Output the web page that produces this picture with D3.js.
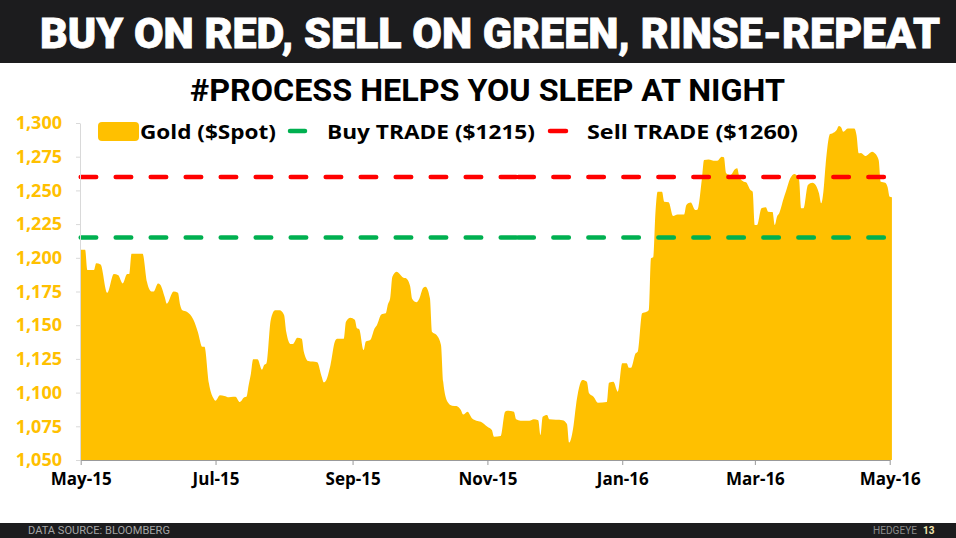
<!DOCTYPE html>
<html><head><meta charset="utf-8">
<script src="https://cdn.jsdelivr.net/npm/d3@7"></script>
<style>html,body{margin:0;padding:0;background:#fff;} svg{display:block;}</style>
</head><body><svg id="c" width="956" height="538"></svg>
<script>
const titleText = "BUY ON RED, SELL ON GREEN, RINSE-REPEAT";
const subtitleText = "#PROCESS HELPS YOU SLEEP AT NIGHT";
const sourceText = "DATA SOURCE: BLOOMBERG";
const brandText = "HEDGEYE";
const pageNumber = "13";

const goldDates = [
"2015-05-01","2015-05-03","2015-05-04","2015-05-07","2015-05-08","2015-05-10","2015-05-13","2015-05-16","2015-05-18","2015-05-20",
"2015-05-22","2015-05-23","2015-05-24","2015-05-29","2015-05-31","2015-06-02","2015-06-03","2015-06-05","2015-06-06","2015-06-08",
"2015-06-09","2015-06-12","2015-06-14","2015-06-15","2015-06-16","2015-06-18","2015-06-21","2015-06-23","2015-06-25","2015-06-26",
"2015-06-28","2015-06-30","2015-07-01","2015-07-03","2015-07-05","2015-07-07","2015-07-09","2015-07-10","2015-07-12","2015-07-14",
"2015-07-15","2015-07-16","2015-07-17","2015-07-18","2015-07-20","2015-07-22","2015-07-23","2015-07-24","2015-07-26","2015-07-28",
"2015-07-30","2015-08-01","2015-08-02","2015-08-04","2015-08-05","2015-08-07","2015-08-09","2015-08-10","2015-08-12","2015-08-16",
"2015-08-18","2015-08-19","2015-08-20","2015-08-22","2015-08-24","2015-08-25","2015-08-28","2015-08-29","2015-08-31","2015-09-02",
"2015-09-03","2015-09-04","2015-09-06","2015-09-07","2015-09-09","2015-09-11","2015-09-12","2015-09-14","2015-09-16","2015-09-17",
"2015-09-18","2015-09-19","2015-09-21","2015-09-22","2015-09-24","2015-09-25","2015-09-27","2015-09-28","2015-09-30","2015-10-01",
"2015-10-03","2015-10-04","2015-10-06","2015-10-07","2015-10-09","2015-10-11","2015-10-12","2015-10-14","2015-10-16","2015-10-18",
"2015-10-20","2015-10-21","2015-10-23","2015-10-25","2015-10-27","2015-10-29","2015-11-01","2015-11-03","2015-11-04","2015-11-07",
"2015-11-09","2015-11-10","2015-11-13","2015-11-14","2015-11-16","2015-11-20","2015-11-22","2015-11-24","2015-11-25","2015-11-26",
"2015-11-28","2015-11-29","2015-12-05","2015-12-07","2015-12-08","2015-12-10","2015-12-11","2015-12-14","2015-12-16","2015-12-17",
"2015-12-19","2015-12-21","2015-12-25","2015-12-26","2015-12-28","2015-12-30","2016-01-01","2016-01-03","2016-01-04","2016-01-05",
"2016-01-07","2016-01-08","2016-01-10","2016-01-12","2016-01-13","2016-01-14","2016-01-15","2016-01-16","2016-01-17","2016-01-19",
"2016-01-20","2016-01-22","2016-01-24","2016-01-26","2016-01-29","2016-01-30","2016-02-01","2016-02-03","2016-02-04","2016-02-06",
"2016-02-07","2016-02-09","2016-02-12","2016-02-13","2016-02-15","2016-02-16","2016-02-17","2016-02-19","2016-02-21","2016-02-22",
"2016-02-23","2016-02-25","2016-02-26","2016-02-28","2016-02-29","2016-03-01","2016-03-02","2016-03-04","2016-03-06","2016-03-07",
"2016-03-09","2016-03-10","2016-03-11","2016-03-12","2016-03-14","2016-03-15","2016-03-17","2016-03-19","2016-03-21","2016-03-22",
"2016-03-23","2016-03-25","2016-03-27","2016-03-28","2016-03-30","2016-03-31","2016-04-01","2016-04-02","2016-04-04","2016-04-05",
"2016-04-07","2016-04-08","2016-04-09","2016-04-10","2016-04-12","2016-04-15","2016-04-16","2016-04-17","2016-04-18","2016-04-20",
"2016-04-21","2016-04-23","2016-04-24","2016-04-26","2016-04-27","2016-04-29","2016-04-30","2016-05-01","2016-05-02"
];
const goldValues = [
1206,1206,1191,1191,1196,1195,1174,1188,1187,1181,
1188,1188,1203,1203,1182,1175,1175,1181,1180,1171,
1166,1175,1174,1165,1161,1160,1154,1145,1134,1134,
1107,1096,1094,1098,1097.5,1096.5,1097,1097,1093,1096.5,
1097,1105.6,1114,1124.7,1124.7,1117,1120.5,1121.5,1154,1161,
1161,1157.6,1145,1136,1136,1140.7,1140,1130,1123.4,1122.5,
1112,1107.6,1109,1120.5,1138,1140,1140,1152.6,1155.6,1154,
1147.7,1147,1131.6,1138,1139,1147.7,1150,1158,1158.8,1165.5,
1170,1186,1189.7,1188.5,1185.2,1185,1179.3,1169.4,1167,1169,
1177.8,1178.6,1170,1145,1142.7,1135.3,1108,1093,1090.3,1090,
1087,1083.7,1085.8,1081,1079.2,1078.4,1074.7,1072.3,1067.3,1067.8,
1085.8,1086.6,1085.8,1080.2,1079.2,1079.2,1080.2,1079.5,1068.5,1082,
1083.4,1080.2,1079.5,1076.7,1063,1076,1089.5,1109.4,1108,1099.5,
1097,1092.5,1093,1107.4,1108,1100.7,1121.7,1121.7,1118.5,1118.5,
1129,1130.3,1158.8,1160,1161.3,1199.6,1200.4,1233,1249,1249,
1241.6,1241.3,1231,1232.2,1232.2,1239.2,1241,1235.5,1235.7,1258,
1272.6,1273,1272,1272,1275,1274.5,1262.7,1261.4,1265.6,1266.4,
1260,1256.5,1256,1250.3,1249,1224.3,1224.3,1236.7,1237.5,1234.2,
1234,1224.3,1230.5,1233,1244,1249,1259,1262.2,1257.7,1236.7,
1236.7,1254,1255.7,1255,1247.8,1240.4,1249,1268.8,1291.8,1292.3,
1294.8,1297.8,1296.8,1293.5,1296,1296,1291,1277.5,1277.7,1275.5,
1276.3,1278.7,1278,1272.6,1256.5,1255.7,1252.7,1245.3,1245
];

const buyLevel = 1215;
const sellLevel = 1260;
const tradeSegments = [["2015-05-01","2015-11-14"],["2015-11-15","2016-05-01"]];
const yTicks = [1050,1075,1100,1125,1150,1175,1200,1225,1250,1275,1300];
const xTicks = ["2015-05-01","2015-07-01","2015-09-01","2015-11-01","2016-01-01","2016-03-01","2016-05-01"];
const legendLabels = ["Gold ($Spot)","Buy TRADE ($1215)","Sell TRADE ($1260)"];

const GOLD = "#FFC000", GREEN = "#00B050", RED = "#FF0000";
const parse = d3.timeParse("%Y-%m-%d");
const svg = d3.select("#c");

// header
svg.append("rect").attr("x",0).attr("y",0).attr("width",956).attr("height",63).attr("fill","#1c1c1e");
svg.append("text").text(titleText).attr("x",40).attr("y",48)
  .attr("font-family","Roboto, 'DejaVu Sans', sans-serif").attr("font-weight",900).attr("font-size",43)
  .attr("fill","#fff").attr("stroke","#fff").attr("stroke-width",0.8)
  .attr("textLength",900).attr("lengthAdjust","spacingAndGlyphs");
svg.append("text").text(subtitleText).attr("x",190).attr("y",101)
  .attr("font-family","Roboto, 'DejaVu Sans', sans-serif").attr("font-weight",700).attr("font-size",32)
  .attr("fill","#000").attr("textLength",595).attr("lengthAdjust","spacingAndGlyphs");

// footer
svg.append("rect").attr("x",0).attr("y",523).attr("width",956).attr("height",15).attr("fill","#1c1c1e");
svg.append("text").text(sourceText).attr("x",28).attr("y",534)
  .attr("font-family","Roboto, sans-serif").attr("font-size",10).attr("fill","#a6a6a6")
  .attr("textLength",142).attr("lengthAdjust","spacingAndGlyphs");
svg.append("text").text(brandText).attr("x",873).attr("y",534)
  .attr("font-family","Roboto, sans-serif").attr("font-size",10).attr("fill","#8c8c8c")
  .attr("textLength",44).attr("lengthAdjust","spacingAndGlyphs");
svg.append("text").text(pageNumber).attr("x",923).attr("y",534)
  .attr("font-family","Roboto, sans-serif").attr("font-weight",700).attr("font-size",10).attr("fill","#f2e6b0");

// scales
const x = d3.scaleTime().domain([parse("2015-05-01"), parse("2016-05-01")]).range([80.7, 889.7]);
const y = d3.scaleLinear().domain([1050, 1300]).range([460, 123]);

const data = goldDates.map((d,i)=>({date:parse(d), value:goldValues[i]}));

// area
const area = d3.area().x(d=>x(d.date)).y0(y(1050)).y1(d=>y(d.value)).curve(d3.curveMonotoneX);
svg.append("path").datum(data).attr("d",area).attr("fill",GOLD);

// trade lines
function tradeLine(level, color){
  tradeSegments.forEach(seg=>{
    svg.append("line").attr("x1",x(parse(seg[0]))).attr("x2",x(parse(seg[1])))
      .attr("y1",y(level)).attr("y2",y(level))
      .attr("stroke",color).attr("stroke-width",4.5).attr("stroke-linecap","round")
      .attr("stroke-dasharray","15.5,19.5");
  });
}
tradeLine(sellLevel, RED);
tradeLine(buyLevel, GREEN);

// y axis
const yAxis = svg.append("g").attr("transform","translate(80,0)")
  .call(d3.axisLeft(y).tickValues(yTicks).tickFormat(d3.format(",")).tickSize(4).tickSizeOuter(0).tickPadding(14));
yAxis.select(".domain").attr("stroke","#d9d9d9");
yAxis.selectAll(".tick line").attr("stroke","#d9d9d9");
yAxis.selectAll("text").attr("fill",GOLD).attr("font-family","'Open Sans', sans-serif")
  .attr("font-weight",700).attr("font-size",18);

// x axis
const xAxis = svg.append("g").attr("transform","translate(0,460)")
  .call(d3.axisBottom(x).tickValues(xTicks.map(parse)).tickFormat(d3.timeFormat("%b-%y")).tickSize(5).tickSizeOuter(0).tickPadding(8));
xAxis.select(".domain").attr("stroke","#999").attr("stroke-width",1.2);
xAxis.selectAll(".tick line").attr("stroke","#999");
xAxis.selectAll("text").attr("fill","#000").attr("font-family","'Open Sans', sans-serif")
  .attr("font-weight",700).attr("font-size",17);

// legend
const lg = svg.append("g").attr("font-family","'Open Sans', sans-serif").attr("font-weight",700).attr("font-size",19).attr("fill","#000");
lg.append("rect").attr("x",98).attr("y",122).attr("width",41).attr("height",19).attr("rx",4).attr("fill",GOLD);
lg.append("text").text(legendLabels[0]).attr("x",140).attr("y",139).attr("textLength",136).attr("lengthAdjust","spacingAndGlyphs");
lg.append("line").attr("x1",290).attr("x2",305).attr("y1",131).attr("y2",131).attr("stroke",GREEN).attr("stroke-width",4.5).attr("stroke-linecap","round");
lg.append("text").text(legendLabels[1]).attr("x",327).attr("y",139).attr("textLength",208).attr("lengthAdjust","spacingAndGlyphs");
lg.append("line").attr("x1",550).attr("x2",566).attr("y1",131).attr("y2",131).attr("stroke",RED).attr("stroke-width",4.5).attr("stroke-linecap","round");
lg.append("text").text(legendLabels[2]).attr("x",587).attr("y",139).attr("textLength",211).attr("lengthAdjust","spacingAndGlyphs");
</script></body></html>
